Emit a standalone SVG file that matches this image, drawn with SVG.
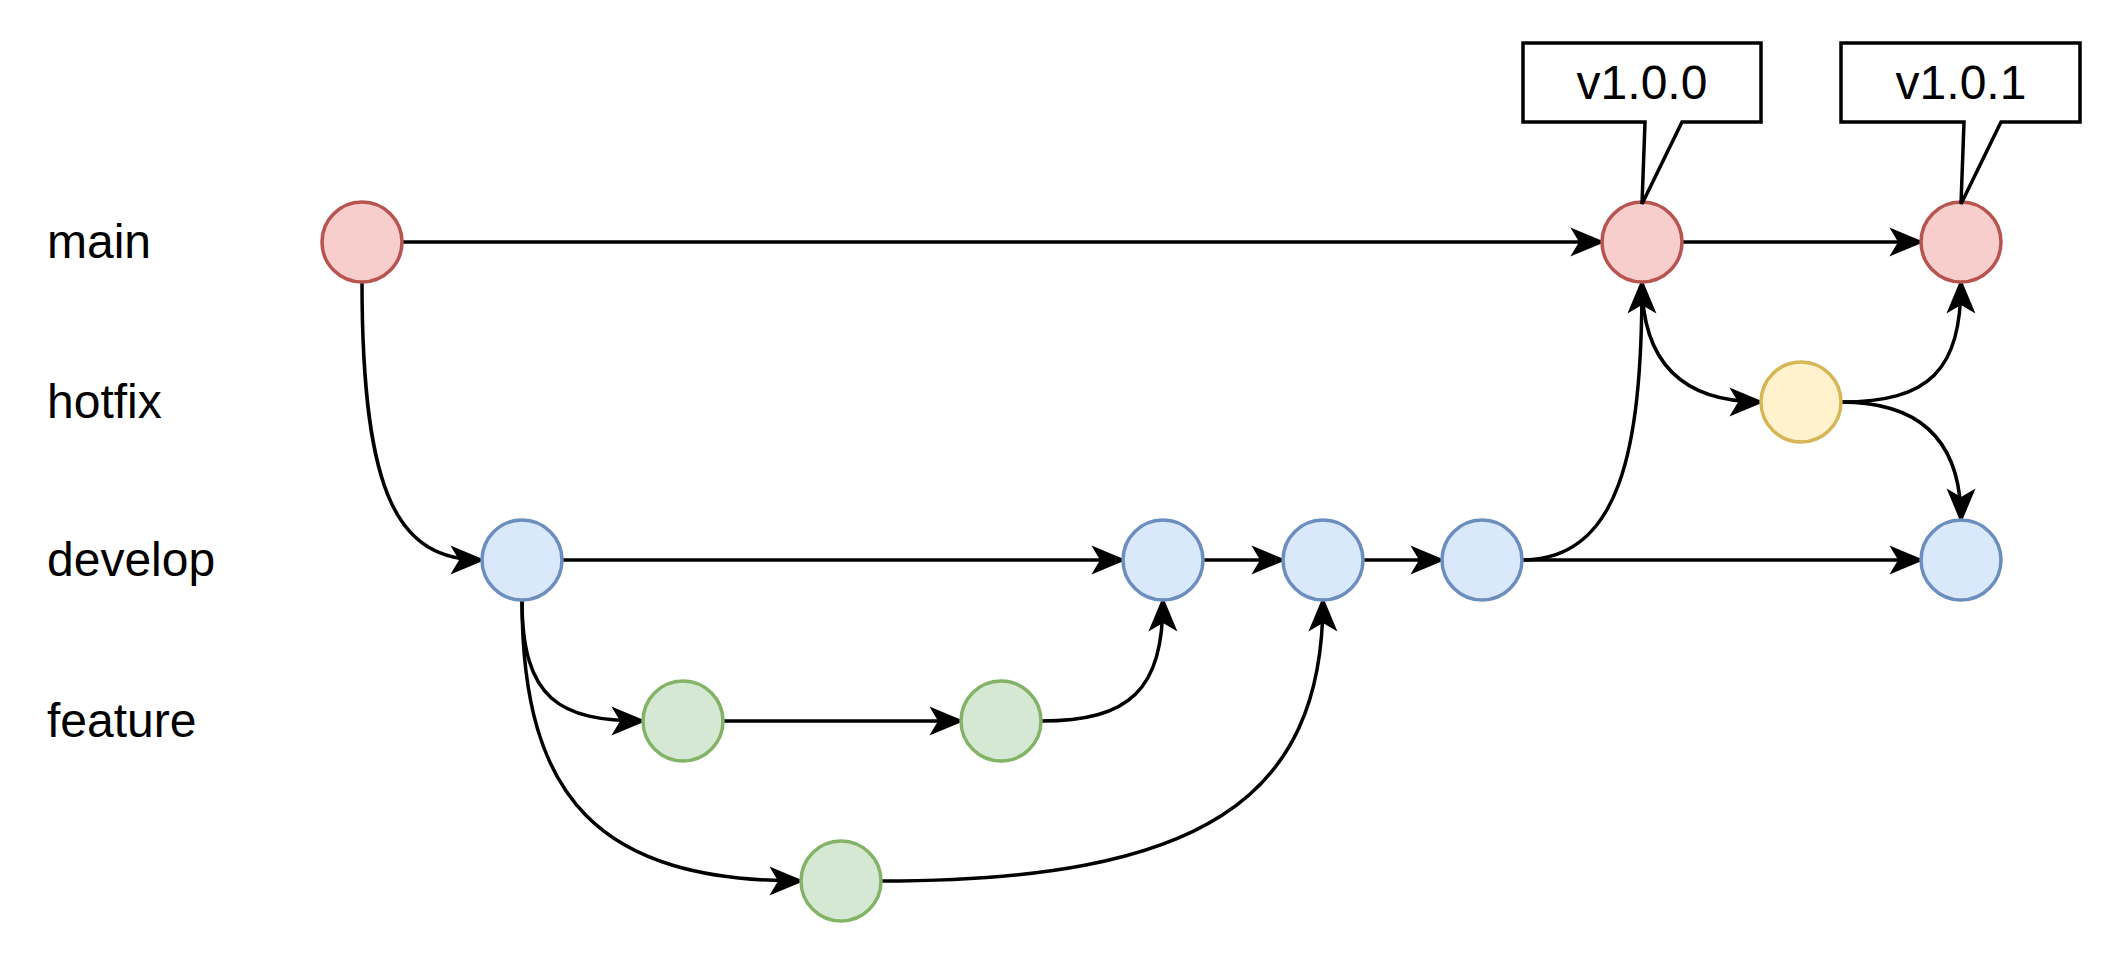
<svg xmlns="http://www.w3.org/2000/svg" width="2128" height="968" viewBox="0 0 2128 968">
<style>
.lbl{font-family:"Liberation Sans",Arial,sans-serif;font-size:48px;fill:#000}
.tag{font-family:"Liberation Sans",Arial,sans-serif;font-size:48px;fill:#000;text-anchor:middle}
.e{fill:none;stroke:#000;stroke-width:3.5;marker-end:url(#a)}
.r{fill:#f8cecc;stroke:#b85450;stroke-width:3.5}
.b{fill:#dae8fc;stroke:#6c8ebf;stroke-width:3.5}
.g{fill:#d5e8d4;stroke:#82b366;stroke-width:3.5}
.y{fill:#fff2cc;stroke:#d6b656;stroke-width:3.5}
.box{fill:#fff;stroke:#000;stroke-width:3.5}
</style>
<defs><marker id="a" viewBox="0 0 10 10" refX="9" refY="5" markerWidth="10" markerHeight="10" markerUnits="userSpaceOnUse" orient="auto" overflow="visible"><path d="M-2,0 L10,5 L-2,10 L1,5 z" fill="#000" transform="scale(2.9) translate(-5.8,-3.3)"/></marker></defs>
<rect width="2128" height="968" fill="#fff"/>
<text class="lbl" x="47" y="258">main</text>
<text class="lbl" x="47" y="418">hotfix</text>
<text class="lbl" x="47" y="576">develop</text>
<text class="lbl" x="47" y="737">feature</text>
<g id="edges">
<path class="e" d="M402 242 L1602 242"/>
<path class="e" d="M1682 242 L1921 242"/>
<path class="e" d="M362 282 C362 500 400 560 482 560"/>
<path class="e" d="M562 560 L1123 560"/>
<path class="e" d="M1203 560 L1283 560"/>
<path class="e" d="M1363 560 L1442 560"/>
<path class="e" d="M1522 560 L1921 560"/>
<path class="e" d="M522 600 C522 700 560 721 643 721"/>
<path class="e" d="M723 721 L961 721"/>
<path class="e" d="M1041 721 C1130 721 1163 690 1163 600"/>
<path class="e" d="M522 600 C522 800 600 881 801 881"/>
<path class="e" d="M881 881 C1200 881 1323 800 1323 600"/>
<path class="e" d="M1522 560 C1620 560 1642 450 1642 282"/>
<path class="e" d="M1642 282 C1642 360 1680 402 1761 402"/>
<path class="e" d="M1841 402 C1930 402 1961 370 1961 282"/>
<path class="e" d="M1841 402 C1920 402 1961 440 1961 520"/>
</g>
<g id="m0"><circle class="r" cx="362" cy="242" r="40"/></g>
<g id="m1"><circle class="r" cx="1642" cy="242" r="40"/></g>
<g id="m2"><circle class="r" cx="1961" cy="242" r="40"/></g>
<g id="h0"><circle class="y" cx="1801" cy="402" r="40"/></g>
<g id="d0"><circle class="b" cx="522" cy="560" r="40"/></g>
<g id="d1"><circle class="b" cx="1163" cy="560" r="40"/></g>
<g id="d2"><circle class="b" cx="1323" cy="560" r="40"/></g>
<g id="d3"><circle class="b" cx="1482" cy="560" r="40"/></g>
<g id="d4"><circle class="b" cx="1961" cy="560" r="40"/></g>
<g id="f0"><circle class="g" cx="683" cy="721" r="40"/></g>
<g id="f1"><circle class="g" cx="1001" cy="721" r="40"/></g>
<g id="f2"><circle class="g" cx="841" cy="881" r="40"/></g>
<g id="t0"><path class="box" d="M1523 43 H1761 V122 H1682 L1642 204 L1645 122 H1523 Z"/><text class="tag" x="1642" y="99">v1.0.0</text></g>
<g id="t1"><path class="box" d="M1841 43 H2080 V122 H2001 L1961 204 L1964 122 H1841 Z"/><text class="tag" x="1961" y="99">v1.0.1</text></g>
</svg>
